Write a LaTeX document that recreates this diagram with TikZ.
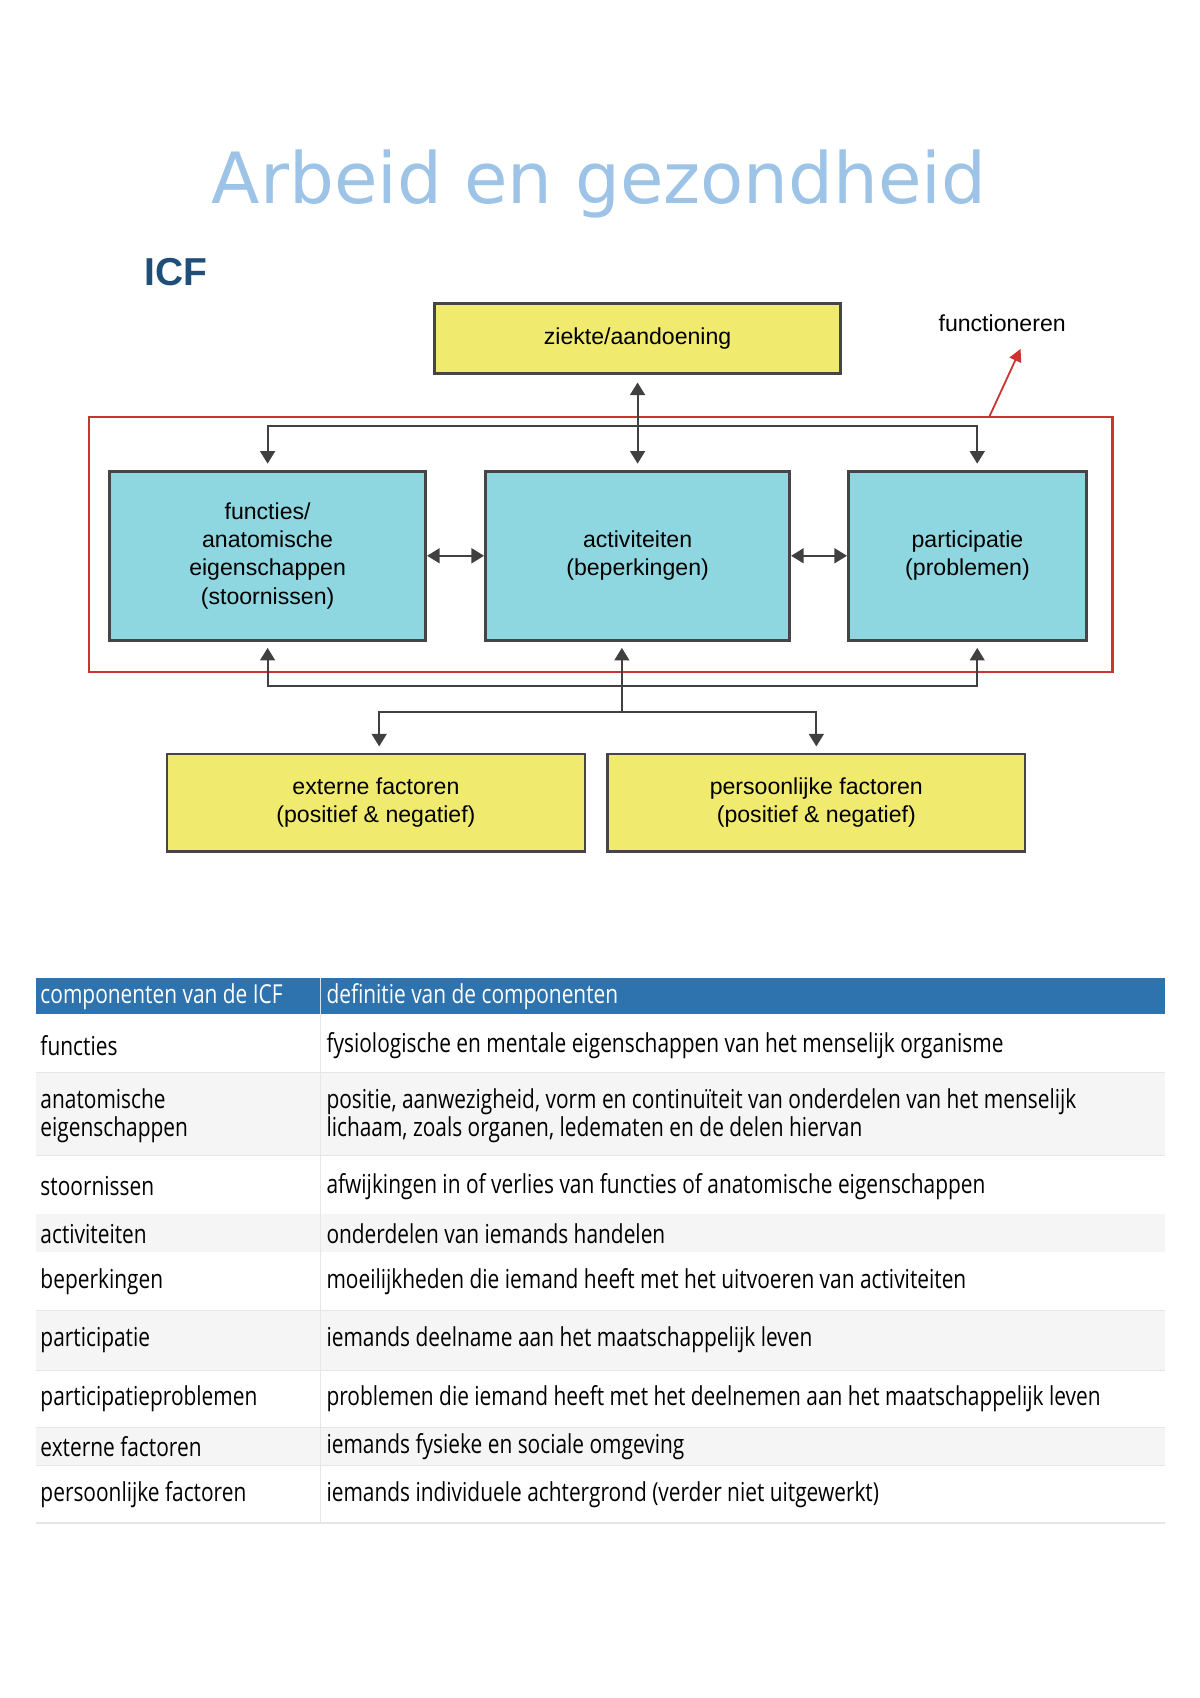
\documentclass[tikz,border=0pt]{standalone}
\usepackage{fontspec}
\setmainfont{Liberation Sans}
\newfontfamily\titelfont{DejaVu Sans}
\newfontfamily\tabelfont[FakeStretch=0.80]{Open Sans}
\usetikzlibrary{arrows.meta}
\definecolor{geel}{HTML}{F0EA6E}
\definecolor{cyaan}{HTML}{8FD7E0}
\definecolor{rand}{HTML}{454545}
\definecolor{kaderrood}{HTML}{CC3333}
\definecolor{titelblauw}{HTML}{9DC3E6}
\definecolor{icfblauw}{HTML}{1F4E79}
\definecolor{kopblauw}{HTML}{2E73AD}
\definecolor{rijgrijs}{HTML}{F5F5F5}
\definecolor{lijngrijs}{HTML}{E6E6E6}
\def\pix{0.1896mm}

\begin{document}
\begin{tikzpicture}[x=\pix,y=-\pix,
  blok/.style={draw=rand,line width=1.3pt,align=center,inner sep=0pt,
    font=\fontsize{11.5}{14.1}\selectfont},
  pijl/.style={line width=1pt,draw=black!75,-{Triangle[length=2.2mm,width=2.6mm]}},
  dubbel/.style={line width=1pt,draw=black!75,{Triangle[length=2.2mm,width=2.6mm]}-{Triangle[length=2.2mm,width=2.6mm]}},
  cel/.style={anchor=west,inner sep=0pt,align=left,font=\tabelfont\fontsize{13}{14.1}\selectfont}]
\useasboundingbox (0,0) rectangle (1107.6,1567.3);
\node[font=\titelfont\fontsize{35.2}{42}\selectfont,text=titelblauw] (titel) at (553,170) {Arbeid en gezondheid};
\node[font=\bfseries\fontsize{19.4}{22}\selectfont,text=icfblauw,anchor=west,inner sep=0pt] (icf) at (133,251) {ICF};

\node[draw=kaderrood,line width=1.2pt,minimum width=945*\pix,minimum height=235*\pix] (kader) at (554.5,502.5) {};
\node[blok,fill=geel,minimum width=375*\pix,minimum height=65*\pix] (ziekte) at (588.5,312.5) {ziekte/aandoening};
\node[blok,fill=cyaan,minimum width=292*\pix,minimum height=156*\pix] (functies) at (247,513) {functies/\\anatomische\\eigenschappen\\(stoornissen)};
\node[blok,fill=cyaan,minimum width=281*\pix,minimum height=156*\pix] (activiteiten) at (588.5,513) {activiteiten\\(beperkingen)};
\node[blok,fill=cyaan,minimum width=220*\pix,minimum height=156*\pix] (participatie) at (893,513) {participatie\\(problemen)};
\node[blok,fill=geel,minimum width=386*\pix,minimum height=90*\pix] (extern) at (347,741) {externe factoren\\(positief \& negatief)};
\node[blok,fill=geel,minimum width=385*\pix,minimum height=90*\pix] (persoonlijk) at (753.5,741) {persoonlijke factoren\\(positief \& negatief)};
\node[font=\fontsize{11.5}{14.1}\selectfont] (functioneren) at (925,298) {functioneren};

\coordinate (bovenrail) at (589,393);
\coordinate (onderrail) at (574,633);
\coordinate (splitsing) at (574,657);
\coordinate (kaderpunt) at (913,385);
\coordinate (roodpunt) at (942,322);

\draw[dubbel,shorten <=1.3mm,shorten >=1.1mm] (ziekte) -- (activiteiten);
\draw[dubbel,shorten <=1.1mm,shorten >=1.1mm] (functies.north) |- (bovenrail) -| ([xshift=9*\pix]participatie.north);
\draw[dubbel] (functies) -- (activiteiten);
\draw[dubbel] (activiteiten) -- (participatie);
\draw[dubbel,shorten <=1.1mm,shorten >=1.1mm] (functies.south) |- (onderrail) -| ([xshift=9*\pix]participatie.south);
\draw[pijl,shorten >=1.1mm] (splitsing) -- ([xshift=-14.5*\pix]activiteiten.south);
\draw[dubbel,shorten <=1.1mm,shorten >=1.1mm] ([xshift=3*\pix]extern.north) |- (splitsing) -| (persoonlijk.north);
\draw[kaderrood,line width=0.9pt,-{Triangle[length=2.2mm,width=2.2mm]}] (kaderpunt) -- (roodpunt);

\fill[kopblauw] (33,903) rectangle (1075,936);
\foreach \t/\b/\k in {936/990/white,990/1067/rijgrijs,1067/1121/white,1121/1156/rijgrijs,1156/1210/white,1210/1265/rijgrijs,1265/1318/white,1318/1353/rijgrijs,1353/1406/white}
  {\fill[\k] (33,\t) rectangle (1075,\b);
   \draw[lijngrijs,line width=0.8pt] (33,\b) -- (1075,\b);}
\draw[lijngrijs,line width=0.8pt] (296,936) -- (296,1406);
\draw[white!80!kopblauw,line width=0.8pt] (296,903) -- (296,936);
\node[cel,text=white] (kop1) at (37,920) {componenten van de ICF};
\node[cel,text=white] (kop2) at (301,920) {definitie van de componenten};
\foreach \y/\a/\b in {
  965/functies/{fysiologische en mentale eigenschappen van het menselijk organisme},
  1030/{anatomische\\eigenschappen}/{positie, aanwezigheid, vorm en continu\"iteit van onderdelen van het menselijk\\lichaam, zoals organen, ledematen en de delen hiervan},
  1095/stoornissen/{afwijkingen in of verlies van functies of anatomische eigenschappen},
  1139/activiteiten/{onderdelen van iemands handelen},
  1183/beperkingen/{moeilijkheden die iemand heeft met het uitvoeren van activiteiten},
  1237/participatie/{iemands deelname aan het maatschappelijk leven},
  1291/participatieproblemen/{problemen die iemand heeft met het deelnemen aan het maatschappelijk leven},
  1335/{externe factoren}/{iemands fysieke en sociale omgeving},
  1380/{persoonlijke factoren}/{iemands individuele achtergrond (verder niet uitgewerkt)}}
  {\node[cel] at (37,\y) {\a};
   \node[cel] at (301,\y) {\b};}
\end{tikzpicture}
\end{document}
